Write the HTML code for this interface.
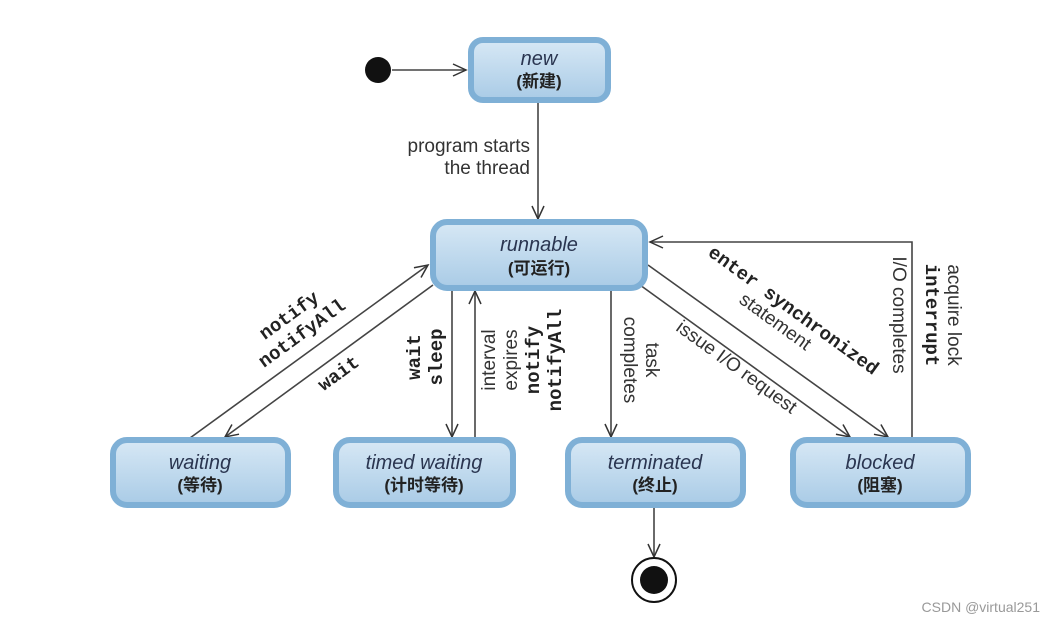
<!DOCTYPE html>
<html><head><meta charset="utf-8"><style>
html,body{margin:0;padding:0;background:#fff;}
svg{display:block}
.t{font-family:"Liberation Sans","DejaVu Sans",sans-serif;font-size:19px;fill:#333;}
.m{font-family:"Liberation Mono","DejaVu Sans Mono",monospace;font-size:19px;font-weight:bold;fill:#222;}
.n{font-family:"Liberation Sans","DejaVu Sans",sans-serif;font-size:20px;font-style:italic;fill:#2a3550;}
.c{font-family:"Liberation Sans","Noto Sans CJK SC",sans-serif;font-size:17px;font-weight:bold;fill:#222;}
</style></head><body>
<svg width="1054" height="623" viewBox="0 0 1054 623" xmlns="http://www.w3.org/2000/svg">
<defs>
<linearGradient id="g" x1="0" y1="0" x2="0" y2="1">
<stop offset="0" stop-color="#d7e8f5"/><stop offset="1" stop-color="#a9cbe6"/>
</linearGradient>
<marker id="a" markerWidth="16" markerHeight="14" refX="14" refY="7" orient="auto" markerUnits="userSpaceOnUse">
<path d="M1,1 L14,7 L1,13" fill="none" stroke="#333" stroke-width="1.5"/>
</marker>
</defs>
<g stroke="#444" stroke-width="1.6" fill="none">
<line x1="392" y1="70" x2="466" y2="70" marker-end="url(#a)"/>
<line x1="538" y1="102" x2="538" y2="219" marker-end="url(#a)"/>
<line x1="190" y1="438" x2="428" y2="265" marker-end="url(#a)"/>
<line x1="433" y1="285" x2="225" y2="437" marker-end="url(#a)"/>
<line x1="452" y1="290" x2="452" y2="437" marker-end="url(#a)"/>
<line x1="475" y1="437" x2="475" y2="291" marker-end="url(#a)"/>
<line x1="611" y1="290" x2="611" y2="437" marker-end="url(#a)"/>
<line x1="640" y1="285" x2="850" y2="437" marker-end="url(#a)"/>
<line x1="648" y1="265" x2="888" y2="437" marker-end="url(#a)"/>
<polyline points="912,437 912,242 650,242" marker-end="url(#a)"/>
<line x1="654" y1="507" x2="654" y2="557" marker-end="url(#a)"/>
</g>
<circle cx="378" cy="70" r="13" fill="#111"/>
<circle cx="654" cy="580" r="22" fill="#fff" stroke="#111" stroke-width="2"/>
<circle cx="654" cy="580" r="14" fill="#111"/>
<g stroke="#7fb0d6" stroke-width="6" fill="url(#g)">
<rect x="471" y="40" width="137" height="60" rx="12"/>
<rect x="433" y="222" width="212" height="66" rx="14"/>
<rect x="113" y="440" width="175" height="65" rx="14"/>
<rect x="336" y="440" width="177" height="65" rx="14"/>
<rect x="568" y="440" width="175" height="65" rx="14"/>
<rect x="793" y="440" width="175" height="65" rx="14"/>
</g>
<g text-anchor="middle">
<text class="n" x="539" y="65">new</text><text class="c" x="539" y="87">(新建)</text>
<text class="n" x="539" y="251">runnable</text><text class="c" x="539" y="274">(可运行)</text>
<text class="n" x="200" y="469">waiting</text><text class="c" x="200" y="491">(等待)</text>
<text class="n" x="424" y="469">timed waiting</text><text class="c" x="424" y="491">(计时等待)</text>
<text class="n" x="655" y="469">terminated</text><text class="c" x="655" y="491">(终止)</text>
<text class="n" x="880" y="469">blocked</text><text class="c" x="880" y="491">(阻塞)</text>
</g>
<g text-anchor="end">
<text class="t" x="530" y="152">program starts</text>
<text class="t" x="530" y="174">the thread</text>
</g>
<g text-anchor="middle">
<g transform="translate(296,325) rotate(-36)"><text class="m" x="0" y="-6">notify</text><text class="m" x="0" y="16">notifyAll</text></g>
<g transform="translate(342,378) rotate(-36)"><text class="m" x="0" y="0">wait</text></g>
<g transform="translate(426,357) rotate(-90)"><text class="m" x="0" y="-6">wait</text><text class="m" x="0" y="16">sleep</text></g>
<g transform="translate(525,360) rotate(-90)"><text class="t" x="0" y="-30">interval</text><text class="t" x="0" y="-8">expires</text><text class="m" x="0" y="14">notify</text><text class="m" x="0" y="36">notifyAll</text></g>
<g transform="translate(640,360) rotate(90)"><text class="t" x="0" y="-6">task</text><text class="t" x="0" y="16">completes</text></g>
<g transform="translate(733,372) rotate(36)"><text class="t" x="0" y="0">issue I/O request</text></g>
<g transform="translate(790,315) rotate(36)"><text class="m" x="0" y="0">enter synchronized</text><text class="t" x="-8" y="20">statement</text></g>
<g transform="translate(893,315) rotate(90)"><text class="t" x="0" y="0">I/O completes</text></g>
<g transform="translate(942,315) rotate(90)"><text class="t" x="0" y="-6">acquire lock</text><text class="m" x="0" y="16">interrupt</text></g>
</g>
<text x="1040" y="612" text-anchor="end" style="font-family:'Liberation Sans',sans-serif;font-size:14px;fill:#999">CSDN @virtual251</text>
</svg>
</body></html>
